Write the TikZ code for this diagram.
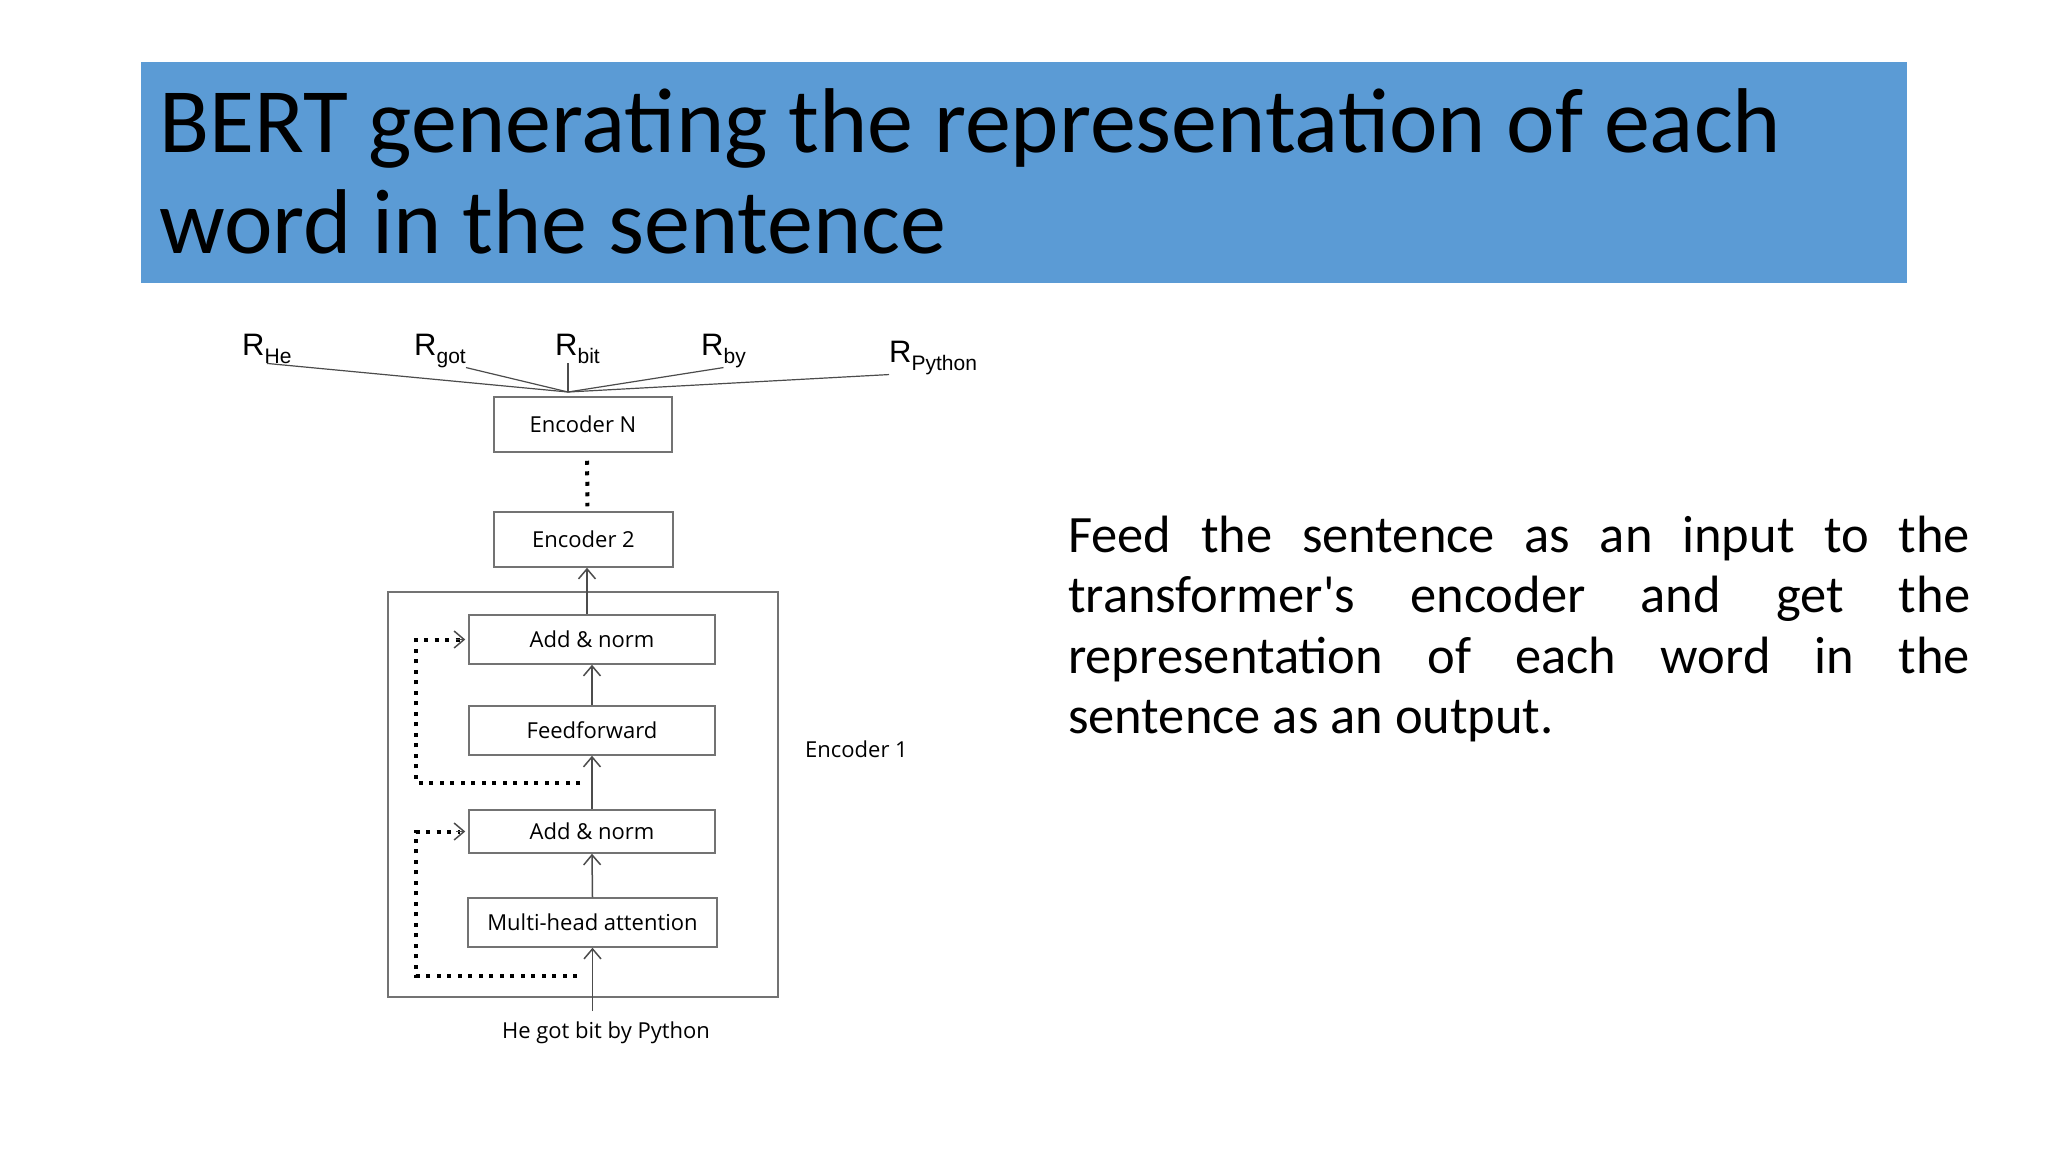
\documentclass[tikz,border=0pt]{standalone}
\usepackage{fontspec}
\setmainfont{Carlito}
\newfontfamily\diagfont{Open Sans}
\newfontfamily\wordfont{Liberation Sans}
\usetikzlibrary{arrows.meta}
\definecolor{titleblue}{HTML}{5B9BD5}
\newcommand{\rword}[1]{R\raisebox{-8pt}{\fontsize{21}{23}\selectfont #1}}

\begin{document}
\begin{tikzpicture}[x=1pt,y=-1pt,
		block/.style={draw=black!55, line width=1.5pt, minimum width=246pt, minimum height=49pt, inner sep=0pt, font=\diagfont\fontsize{22}{26}\selectfont},
		link/.style={draw=black!70, line width=1.5pt},
		skip/.style={draw=black, line width=4pt, dash pattern=on 4pt off 6.5pt},
		rlabel/.style={anchor=base west, inner sep=0pt, font=\wordfont\fontsize{31}{33}\selectfont},
		>={Straight Barb[length=10pt,width=17pt]}
	]
		\path[use as bounding box, fill=white] (0,0) rectangle (2048,1152);
		
		\fill[titleblue] (141,62) rectangle (1907,283);
		\node[anchor=base west, inner sep=0pt, align=left, font=\fontsize{92}{101}\selectfont] (title) at (159,253) {BERT generating the representation of each\\word in the sentence};
		
		\node[anchor=base west, inner sep=0pt, text width=902pt, align=justify, font=\fontsize{52.5}{60.5}\selectfont] (desc) at (1068,552) {\hyphenpenalty=10000 \tolerance=10000 Feed the sentence as an input to the\linebreak transformer\textquotesingle s encoder and get the\linebreak representation of each word in the\linebreak sentence as an output.};
		
		\node[rlabel] (rhe) at (242,355) {\rword{He}};
		\node[rlabel] (rgot) at (414,355) {\rword{got}};
		\node[rlabel] (rbit) at (555,355) {\rword{bit}};
		\node[rlabel] (rby) at (701,355) {\rword{by}};
		\node[rlabel] (rpython) at (889,362) {\rword{Python}};
		\coordinate (merge) at (568,392);
		\foreach \a in {rhe.south, rgot.south east, rby.south, rpython.south west}
			\draw[link, line width=1.2pt] (\a) -- (merge);
		\draw[link, line width=1.2pt] (rbit.south -| merge) -- (merge);
		
		\node[block, minimum width=178pt, minimum height=55pt] (encN) at (583,424.5) {Encoder N};
		\node[block, minimum width=179pt, minimum height=55pt] (enc2) at (583.5,539.5) {Encoder 2};
		\draw[skip, shorten <=8pt, shorten >=5pt] ([xshift=4pt]encN.south) -- ([xshift=4pt]enc2.north);
		
		\node[draw=black!55, line width=1.5pt, minimum width=390pt, minimum height=405pt] (enc1) at (583,794.5) {};
		\node[anchor=base west, inner sep=0pt, font=\diagfont\fontsize{22}{26}\selectfont] (enc1label) at (805,757) {Encoder 1};
		
		\node[block] (addtop) at (592,639.5) {Add \& norm};
		\node[block] (ff) at (592,730.5) {Feedforward};
		\node[block, minimum height=43pt] (addbot) at (592,831.5) {Add \& norm};
		\node[block, minimum width=249pt] (mha) at (592.5,922.5) {Multi-head attention};
		\node[anchor=base, inner sep=0pt, font=\diagfont\fontsize{22}{26}\selectfont] (inp) at (606,1038) {He got bit by Python};
		
		\draw[link, ->, shorten <=10pt] (inp.north -| mha.south) -- (mha.south);
		\draw[link, ->] (mha.north) -- (addbot.south);
		\draw[link, ->] (addbot.north) -- (ff.south);
		\draw[link, ->] (ff.north) -- (addtop.south);
		\draw[link, ->] ([xshift=-5pt]addtop.north) -- ([xshift=3.5pt]enc2.south);
		
		\coordinate (res1) at (580,783);
		\draw[skip] (res1) -| ([xshift=-52pt]addtop.west) -- ([xshift=-8pt]addtop.west);
		\draw[link, ->, shorten >=3pt] ([xshift=-12pt]addtop.west) -- (addtop.west);
		
		\coordinate (res2) at (577,976);
		\draw[skip] (res2) -| ([xshift=-52pt]addbot.west) -- ([xshift=-8pt]addbot.west);
		\draw[link, ->, shorten >=3pt] ([xshift=-12pt]addbot.west) -- (addbot.west);
\end{tikzpicture}
\end{document}
